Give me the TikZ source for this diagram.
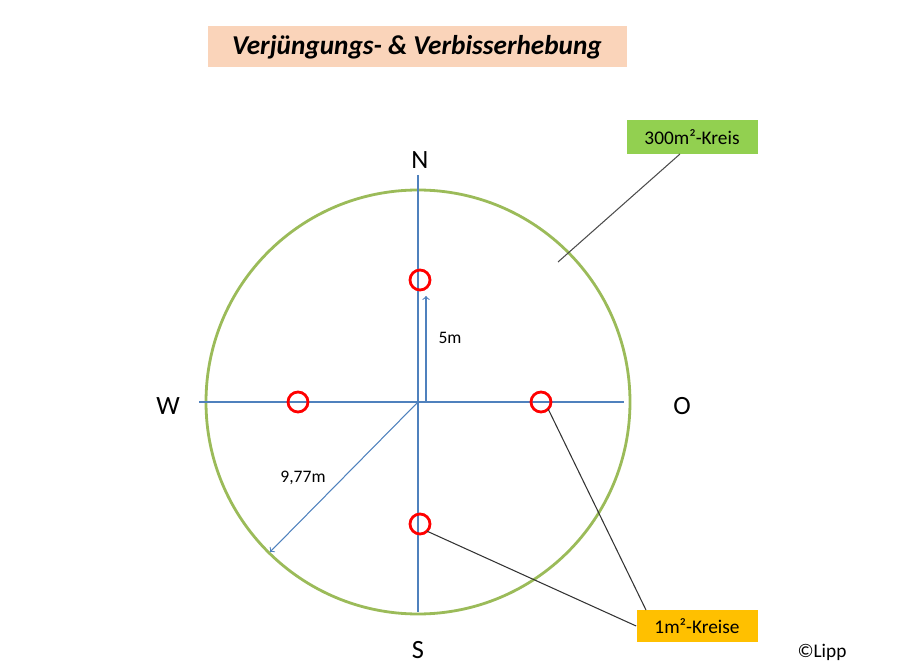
\documentclass[tikz,border=0pt]{standalone}
\usepackage{fontspec}
\setmainfont{Carlito}
\usetikzlibrary{positioning}
\definecolor{ringgreen}{RGB}{155,187,89}
\definecolor{axisblue}{RGB}{79,129,189}
\definecolor{peach}{RGB}{250,212,186}
\definecolor{boxgreen}{RGB}{146,208,80}
\definecolor{boxorange}{RGB}{255,192,0}
\tikzset{
  plot/.style={red,line width=1.6pt},
  axis/.style={axisblue,line width=0.6pt},
  tag/.style={inner sep=0pt,font=\fontsize{10}{12}\selectfont},
  compass/.style={font=\fontsize{15}{18}\selectfont}
}
\begin{document}
\begin{tikzpicture}[x=0.02cm,y=-0.02cm]
\useasboundingbox (0,0) rectangle (900,672);

\node[fill=peach,minimum width=419*0.02cm,minimum height=41*0.02cm] (title) at (417,47)
  {\fontsize{15.5}{18}\selectfont\bfseries\itshape Verjüngungs- \& Verbisserhebung};

\coordinate (M) at (418,402);
\draw[ringgreen,line width=1.6pt] (M) circle[radius=212*0.02cm];

\draw[axis] (199,402) coordinate (west) -- (624,402) coordinate (east);
\draw[axis] (418,175) coordinate (north) -- (418,612) coordinate (south);

\node[compass] (n) at (420,160) {N};
\node[compass] (s) at (418,650) {S};
\node[compass] (w) at (168,406) {W};
\node[compass] (o) at (682,406) {O};

\draw[plot] (420,280) circle[radius=10*0.02cm];
\node[circle,minimum size=20*0.02cm,inner sep=0pt] (pw) at (298,402) {};
\draw[plot] (pw) circle[radius=10*0.02cm];
\node[circle,minimum size=20*0.02cm,inner sep=0pt] (po) at (541,402) {};
\draw[plot] (po) circle[radius=10*0.02cm];
\node[circle,minimum size=20*0.02cm,inner sep=0pt] (ps) at (420,524) {};
\draw[plot] (ps) circle[radius=10*0.02cm];

\draw[axis,->] (426,402) -- (426,296) coordinate (arrtip);
\node[tag] (five) at (450,338) {5m};
\draw[axis,->] (M) -- (270,552) coordinate (rtip);
\node[tag] (radius) at (303,478) {9,77m};

\node[fill=boxgreen,minimum width=131*0.02cm,minimum height=34*0.02cm,font=\fontsize{11}{13}\selectfont] (big) at (692,137) {300m²-Kreis};
\coordinate (ringpt) at (558,262);
\draw[black!70,line width=0.6pt] (680,154) -- (ringpt);

\node[fill=boxorange,minimum width=121*0.02cm,minimum height=32*0.02cm,font=\fontsize{11}{13}\selectfont] (small) at (697,626) {1m²-Kreise};
\draw[black!80,line width=0.6pt] (po.south east) -- (646,610);
\draw[black!80,line width=0.6pt] (ps.south east) -- (small.west);

\node[font=\fontsize{11}{13}\selectfont] (copy) at (822,652) {©Lipp};
\end{tikzpicture}
\end{document}
